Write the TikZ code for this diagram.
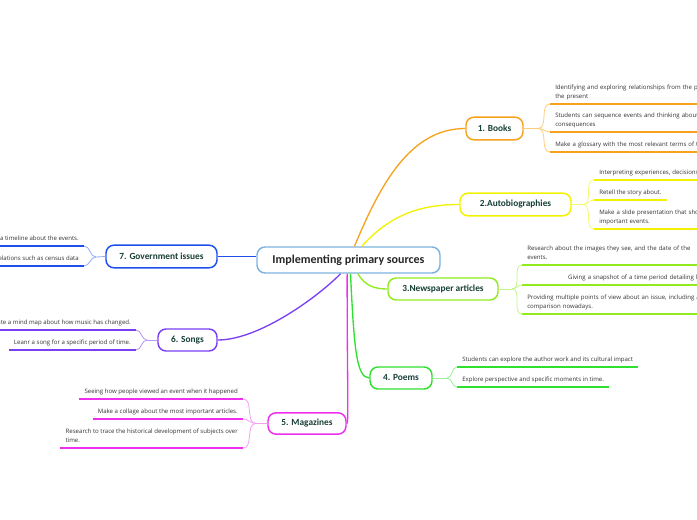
\documentclass[tikz,border=0pt]{standalone}
\usepackage{fontspec}
\setmainfont{Open Sans}
\newfontfamily\topicfont{Carlito}
\definecolor{cOr}{HTML}{F7A21E}
\definecolor{cOrL}{HTML}{FFCB7A}
\definecolor{cYe}{HTML}{F2F200}
\definecolor{cYeL}{HTML}{F8F878}
\definecolor{cNg}{HTML}{90EC1E}
\definecolor{cNgL}{HTML}{C4F48A}
\definecolor{cPo}{HTML}{30E030}
\definecolor{cPoL}{HTML}{98F098}
\definecolor{cMa}{HTML}{EE30EE}
\definecolor{cMaL}{HTML}{F5A0F5}
\definecolor{cPu}{HTML}{7B3FF2}
\definecolor{cPuL}{HTML}{B498F8}
\definecolor{cBl}{HTML}{1F4FEA}
\definecolor{cBlL}{HTML}{94AAF5}
\definecolor{cCe}{HTML}{7DB3E0}
\definecolor{tDark}{HTML}{173F36}
\definecolor{tLeaf}{HTML}{333333}
\begin{document}
\begin{tikzpicture}[x=0.75pt,y=-0.75pt,
  central/.style={draw=cCe,line width=1.1pt,rounded corners=6pt,fill=white,
    text=black!85,font=\topicfont\bfseries\fontsize{9}{10}\selectfont,
    minimum width=137.25pt,minimum height=19.5pt,inner sep=0pt},
  topic/.style={line width=1.1pt,rounded corners=6pt,fill=white,text=tDark,
    font=\topicfont\bfseries\fontsize{7}{8}\selectfont,
    minimum height=17pt,inner sep=0pt},
  leaf/.style={text=tLeaf,font=\fontsize{4.55}{6.75}\selectfont,
    inner xsep=3.75pt,inner ysep=1.75pt,execute at end node={\strut}},
  mainc/.style={draw=#1,line width=1pt},
  br/.style={draw=#1,line width=0.6pt},
  ul/.style={draw=#1,line width=1.4pt}]
\useasboundingbox (0,0) rectangle (697,520);
\clip (0,0) rectangle (697,520);

% central and topics
\node[central] (c) at (348.5,260) {Implementing primary sources};
\node[topic,draw=cOr,minimum width=42.75pt] (books) at (494.5,128.5) {1. Books};
\node[topic,draw=cYe,minimum width=83.25pt] (autobio) at (515.5,204.5) {2.Autobiographies};
\node[topic,draw=cNg,minimum width=82.5pt,minimum height=16.5pt] (news) at (443,289) {3.Newspaper articles};
\node[topic,draw=cPo,minimum width=46.5pt,minimum height=16.5pt] (poems) at (401,378) {4. Poems};
\node[topic,draw=cMa,minimum width=58.5pt,minimum height=16pt] (mag) at (307,423.5) {5. Magazines};
\node[topic,draw=cPu,minimum width=44.25pt,minimum height=16.5pt] (songs) at (187.5,340) {6. Songs};
\node[topic,draw=cBl,minimum width=83.25pt] (gov) at (161.5,256.5) {7. Government issues};

% main connectors
\draw[mainc=cOr] ([xshift=4.5pt]c.north) .. controls (380,185) and (410,128.5) .. (books.west);
\draw[mainc=cYe] ([xshift=10pt]c.north) .. controls (390,215) and (420,204.5) .. (autobio.west);
\draw[mainc=cNg] ([xshift=7pt]c.south) .. controls (365,286) and (375,289) .. (news.west);
\draw[mainc=cPo] ([xshift=1.5pt]c.south) .. controls (354,345) and (356,378) .. (poems.west);
\draw[mainc=cMa] ([xshift=-1pt]c.south) .. controls (347,380) and (349,423.5) .. (mag.east);
\draw[mainc=cPu] ([xshift=-6pt]c.south) .. controls (320,295) and (260,340) .. (songs.east);
\draw[mainc=cBl] (gov.east) -- (gov.east -| c.west);

% split points
\coordinate (bs) at (538,128.5);
\coordinate (as) at (583,204.5);
\coordinate (ns) at (512,289);
\coordinate (ps) at (447,378);
\coordinate (ms) at (256,423.5);
\coordinate (ss) at (147,340);
\coordinate (gs) at (96,257);
\draw[br=cOrL] (books.east) -- (bs);
\draw[br=cYeL] (autobio.east) -- (as);
\draw[br=cNgL] (news.east) -- (ns);
\draw[br=cPoL] (poems.east) -- (ps);
\draw[br=cMaL] (mag.west) -- (ms);
\draw[br=cPuL] (songs.west) -- (ss);
\draw[br=cBlL] (gov.west) -- (gs);

% Books leaves
\node[leaf,text width=215pt,align=left,anchor=south west] (b1) at (550,104) {Identifying and exploring relationships from the past and\\the present};
\node[leaf,text width=215pt,align=left,anchor=south west] (b2) at (550,132) {Students can sequence events and thinking about causes and\\consequences};
\node[leaf,text width=215pt,align=left,anchor=south west] (b3) at (550,152) {Make a glossary with the most relevant terms of the period};
\foreach \n in {b1,b2,b3}{
  \draw[br=cOrL] (bs) to[out=0,in=180] (\n.south west);
  \draw[ul=cOr] (\n.south west) -- (\n.south east);}

% Autobiographies leaves
\node[leaf,text width=160pt,align=left,anchor=south west] (a1) at (594,180) {Interpreting experiences, decisions and events.};
\node[leaf,anchor=south west] (a2) at (594,200) {Retell the story about.};
\node[leaf,text width=160pt,align=left,anchor=south west] (a3) at (594,229) {Make a slide presentation that shows the most\\important events.};
\foreach \n in {a1,a2,a3}{
  \draw[br=cYeL] (as) to[out=0,in=180] (\n.south west);
  \draw[ul=cYe] (\n.south west) -- (\n.south east);}

% Newspaper leaves
\node[leaf,text width=195pt,align=left,anchor=south west] (n1) at (522,265) {Research about the images they see, and the date of the\\events.};
\node[leaf,text width=195pt,align=center,anchor=south west] (n2) at (522,285) {Giving a snapshot of a time period detailing how people lived.};
\node[leaf,text width=195pt,align=left,anchor=south west] (n3) at (522,314) {Providing multiple points of view about an issue, including a\\comparison nowadays.};
\foreach \n in {n1,n2,n3}{
  \draw[br=cNgL] (ns) to[out=0,in=180] (\n.south west);
  \draw[ul=cNg] (\n.south west) -- (\n.south east);}

% Poems leaves
\node[leaf,anchor=south west] (p1) at (457,367) {Students can explore the author work and its cultural impact};
\node[leaf,anchor=south west] (p2) at (457,387) {Explore perspective and specific moments in time.};
\foreach \n in {p1,p2}{
  \draw[br=cPoL] (ps) to[out=0,in=180] (\n.south west);
  \draw[ul=cPo] (\n.south west) -- (\n.south east);}

% Magazines leaves
\node[leaf,anchor=south east] (m1) at (243,399) {Seeing how people viewed an event when it happened};
\node[leaf,anchor=south east] (m2) at (243,419) {Make a collage about the most important articles.};
\node[leaf,align=left,anchor=south east] (m3) at (243,448) {Research to trace the historical development of subjects over\\time.};
\foreach \n in {m1,m2,m3}{
  \draw[br=cMaL] (ms) to[out=180,in=0] (\n.south east);
  \draw[ul=cMa] (\n.south east) -- (\n.south west);}

% Songs leaves
\node[leaf,anchor=south east] (s1) at (136,330) {Create a mind map about how music has changed.};
\node[leaf,anchor=south east] (s2) at (136,350) {Leanr a song for a specific period of time.};
\foreach \n in {s1,s2}{
  \draw[br=cPuL] (ss) to[out=180,in=0] (\n.south east);
  \draw[ul=cPu] (\n.south east) -- (\n.south west);}

% Government leaves
\node[leaf,anchor=south east] (g1) at (84,246) {Make a timeline about the events.};
\node[leaf,anchor=south east] (g2) at (84,266) {Analyze population relations such as census data};
\foreach \n in {g1,g2}{
  \draw[br=cBlL] (gs) to[out=180,in=0] (\n.south east);
  \draw[ul=cBl] (\n.south east) -- (\n.south west);}
\end{tikzpicture}
\end{document}
